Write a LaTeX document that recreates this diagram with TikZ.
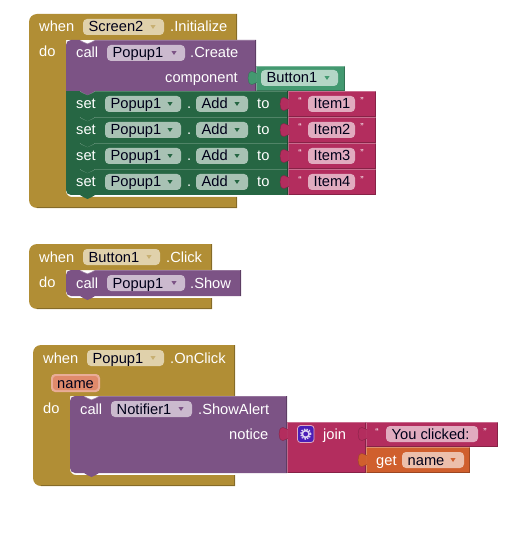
\documentclass[tikz,border=0pt]{standalone}
\usepackage{fontspec}
\setmainfont{Liberation Sans}
\definecolor{gold}{HTML}{B18E35}
\definecolor{goldf}{HTML}{E0D1AB}
\definecolor{purp}{HTML}{7C5385}
\definecolor{purpf}{HTML}{CBBACE}
\definecolor{setg}{HTML}{266643}
\definecolor{setf}{HTML}{A8C2B4}
\definecolor{txtr}{HTML}{B32D5E}
\definecolor{txtf}{HTML}{E1ABBF}
\definecolor{btng}{HTML}{439970}
\definecolor{btnf}{HTML}{B4D6C6}
\definecolor{getc}{HTML}{D05F2D}
\definecolor{getf}{HTML}{ECBFAB}
\definecolor{namec}{HTML}{E08A6B}
\definecolor{iconc}{HTML}{4A1EB8}
\tikzset{
  lbl/.style={anchor=base west,inner sep=0pt,font=\fontsize{14.67}{16}\selectfont,text=white},
  fldtxt/.style={anchor=base west,inner sep=0pt,font=\fontsize{14.67}{16}\selectfont,text=black!90!blue},
  quot/.style={anchor=base,inner sep=0pt,font=\fontsize{10}{10}\selectfont,text=white},
  pillbox/.style={rounded corners=4pt,line width=0pt}
}
% hat block: x1 y1 x2 yheader xinner ybar ybottom
\newcommand{\hatblk}[7]{%
  \fill[gold] (#3,#2) -- (#3,#4) -- (#5,#4) [rounded corners=6pt] -- (#5,#6) [sharp corners] -- (#3,#6) -- (#3,#7) [rounded corners=8pt] -- (#1,#7) -- (#1,#2) [sharp corners] -- cycle;
  \draw[gold!75!black,line width=.7pt] (#1+8,#7-.3) -- (#3-.3,#7-.3) -- (#3-.3,#6);
  \draw[gold!75!black,line width=.7pt] (#3-.3,#2) -- (#3-.3,#4);
}
% statement block: x1 y1 x2 y2 colour rTop rBottom
\newcommand{\stmtblk}[7]{%
  \fill[#5] (#3,#2) -- (#3,#4) -- (#1+29,#4) .. controls (#1+26,#4+.5) and (#1+25,#4+4) .. (#1+21.5,#4+4) .. controls (#1+18,#4+4) and (#1+17,#4+.5) .. (#1+14,#4) [rounded corners=#7] -- (#1,#4) [rounded corners=#6] -- (#1,#2) [sharp corners] -- (#1+14,#2) .. controls (#1+17,#2+.5) and (#1+18,#2+3.5) .. (#1+21.5,#2+3.5) .. controls (#1+25,#2+3.5) and (#1+26,#2+.5) .. (#1+29,#2) -- cycle;
  \draw[white,opacity=.3,line width=.7pt] (#1+14,#2+.3) .. controls (#1+17,#2+.8) and (#1+18,#2+3.8) .. (#1+21.5,#2+3.8) .. controls (#1+25,#2+3.8) and (#1+26,#2+.8) .. (#1+29,#2+.3) -- (#3,#2+.3);
  \draw[#5!75!black,line width=.7pt] (#3-.3,#2) -- (#3-.3,#4);
}
% value block: x1 y1 x2 y2 colour centre-of-tab
\newcommand{\valblk}[6]{%
  \fill[#5] (#1,#2) rectangle (#3,#4);
  \draw[#5!75!black,line width=.7pt] (#3-.3,#2) -- (#3-.3,#4-.3) -- (#1,#4-.3);
  \draw[white,opacity=.3,line width=.7pt] (#1+.4,#4) -- (#1+.4,#2+.3) -- (#3,#2+.3);
  \tabknob{#1}{#6}{#5}%
}
\newcommand{\tabknob}[3]{%
  \filldraw[fill=#3,draw=#3!75!black,line width=.4pt] (#1+.6,#2-4.5) .. controls (#1-1,#2-4.5) and (#1-2,#2-6.5) .. (#1-4,#2-6.5) .. controls (#1-7,#2-6.5) and (#1-8,#2-3) .. (#1-8,#2) .. controls (#1-8,#2+3) and (#1-7,#2+6.5) .. (#1-4,#2+6.5) .. controls (#1-2,#2+6.5) and (#1-1,#2+4.5) .. (#1+.6,#2+4.5);
}
% text field, no triangle: name x1 x2 ycentre fill text
\newcommand{\fldp}[6]{%
  \fill[#5,pillbox] (#2,#4-8) rectangle (#3,#4+8);
  \node[fldtxt] (#1) at (#2+5.5,#4+5) {#6};
}
% dropdown field: name x1 x2 ycentre fill text triangle-colour
\newcommand{\fld}[7]{%
  \fldp{#1}{#2}{#3}{#4}{#5}{#6}%
  \fill[#7] (#3-13.5,#4-1.8) -- (#3-8.5,#4-1.8) -- (#3-11,#4+2) -- cycle;
}
% plain label: name x ycentre text
\newcommand{\lab}[4]{\node[lbl] (#1) at (#2,#3+5) {#4};}
\newcommand{\qts}[4]{%
  \node[quot] (#1a) at (#2,#4+1) {“};
  \node[quot] (#1b) at (#3,#4+1) {”};
}
\colorlet{goldtri}{gold!70!white}
\begin{document}
\begin{tikzpicture}[x=1pt,y=-1pt]
\useasboundingbox (0,0) rectangle (512,553);
\fill[white] (0,0) rectangle (512,553);

%% ---- first group
\hatblk{29}{14}{237}{40}{66}{197}{208}
\valblk{256}{66}{345}{91}{btng}{78}
\fld{fb}{261}{338}{78}{btnf}{Button1}{btng}
\valblk{288}{169}{376}{195}{txtr}{182}
\valblk{288}{143}{376}{169}{txtr}{156}
\valblk{288}{117}{376}{143}{txtr}{130}
\valblk{288}{91}{376}{117}{txtr}{104}
\stmtblk{66}{169}{288}{195}{setg}{0.01pt}{5pt}
\stmtblk{66}{143}{288}{169}{setg}{0.01pt}{0.01pt}
\stmtblk{66}{117}{288}{143}{setg}{0.01pt}{0.01pt}
\stmtblk{66}{91}{288}{117}{setg}{0.01pt}{0.01pt}
\tabknob{288}{104}{txtr}
\tabknob{288}{130}{txtr}
\tabknob{288}{156}{txtr}
\tabknob{288}{182}{txtr}
\stmtblk{66}{40}{256}{91}{purp}{5pt}{0.01pt}
\tabknob{256}{78}{btng}

\lab{w1}{39}{27}{when}
\fld{f1}{83}{164}{27}{goldf}{Screen2}{goldtri}
\lab{i1}{170}{27}{.Initialize}
\lab{d1}{39}{52}{do}
\lab{c1}{76}{53}{call}
\fld{f2}{107}{185}{53}{purpf}{Popup1}{purp}
\lab{t1}{190}{53}{.Create}
\lab{cp}{165}{78}{component}

\lab{s1}{76}{104}{set}
\fld{p1}{105}{181}{104}{setf}{Popup1}{setg}
\lab{dt1}{187}{104}{.}
\fld{a1}{196}{248}{104}{setf}{Add}{setg}
\lab{to1}{257}{104}{to}
\qts{q1}{300}{362}{104}
\fldp{v1}{308}{355}{104}{txtf}{Item1}

\lab{s2}{76}{130}{set}
\fld{p2}{105}{181}{130}{setf}{Popup1}{setg}
\lab{dt2}{187}{130}{.}
\fld{a2}{196}{248}{130}{setf}{Add}{setg}
\lab{to2}{257}{130}{to}
\qts{q2}{300}{362}{130}
\fldp{v2}{308}{355}{130}{txtf}{Item2}

\lab{s3}{76}{156}{set}
\fld{p3}{105}{181}{156}{setf}{Popup1}{setg}
\lab{dt3}{187}{156}{.}
\fld{a3}{196}{248}{156}{setf}{Add}{setg}
\lab{to3}{257}{156}{to}
\qts{q3}{300}{362}{156}
\fldp{v3}{308}{355}{156}{txtf}{Item3}

\lab{s4}{76}{182}{set}
\fld{p4}{105}{181}{182}{setf}{Popup1}{setg}
\lab{dt4}{187}{182}{.}
\fld{a4}{196}{248}{182}{setf}{Add}{setg}
\lab{to4}{257}{182}{to}
\qts{q4}{300}{362}{182}
\fldp{v4}{308}{355}{182}{txtf}{Item4}

%% ---- second group
\hatblk{29}{244}{212}{270}{66}{298}{309}
\stmtblk{66}{270}{241}{296}{purp}{5pt}{5pt}
\lab{w2}{39}{257}{when}
\fld{f3}{83}{160}{257}{goldf}{Button1}{goldtri}
\lab{i2}{166}{257}{.Click}
\lab{d2}{39}{282}{do}
\lab{c2}{76}{283}{call}
\fld{f4}{107}{185}{283}{purpf}{Popup1}{purp}
\lab{t2}{190}{283}{.Show}

%% ---- third group
\hatblk{33}{345}{235}{396}{70}{475}{486}
\valblk{366}{447}{470}{473}{getc}{460}
\valblk{366}{422}{498}{447}{txtr}{434}
\valblk{287}{422}{366}{473}{txtr}{434}
\tabknob{366}{434}{txtr}
\tabknob{366}{460}{getc}
\stmtblk{70}{396}{287}{473}{purp}{5pt}{5pt}
\tabknob{287}{434}{txtr}

\lab{w3}{43}{358}{when}
\fld{f5}{87}{164}{358}{goldf}{Popup1}{goldtri}
\lab{i3}{170}{358}{.OnClick}
\fill[namec!70!white,rounded corners=4pt] (51,374) rectangle (100,392);
\fill[namec,rounded corners=3pt] (53,376) rectangle (98,390);
\node[fldtxt] (nm) at (57,388) {name};
\lab{d3}{43}{408}{do}
\lab{c3}{80}{409}{call}
\fld{f6}{111}{192}{409}{purpf}{Notifier1}{purp}
\lab{t3}{198}{409}{.ShowAlert}
\lab{nt}{229}{434}{notice}

\fill[iconc,draw=txtf,line width=.8pt,rounded corners=3pt] (297.5,425.5) rectangle (314,442.5);
\draw[white!80!iconc,line width=1.6pt] (305.7,434) circle (3.4pt);
\draw[white!80!iconc,line width=1.5pt,dash pattern=on 1.4pt off 1.3pt] (305.7,434) circle (5pt);
\lab{jn}{323}{434}{join}
\qts{q5}{377}{485}{434}
\fldp{y1}{386}{478}{434}{txtf}{You clicked:}
\lab{gt}{376}{460}{get}
\fld{n2}{402}{464}{460}{getf}{name}{getc}
\end{tikzpicture}
\end{document}
